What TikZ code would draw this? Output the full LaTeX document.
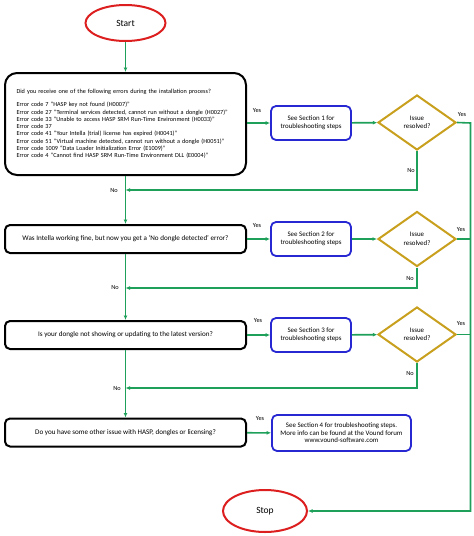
\documentclass[tikz,border=0pt]{standalone}
\usepackage{fontspec}
\setmainfont{Carlito}
\usetikzlibrary{shapes.geometric, arrows.meta, positioning}
\definecolor{flowgreen}{RGB}{30, 160, 90}
\definecolor{stopred}{RGB}{220, 30, 30}
\definecolor{stepblue}{RGB}{40, 40, 210}
\definecolor{askgold}{RGB}{200, 160, 30}

\begin{document}
\begin{tikzpicture}[x=1pt, y=-1pt,
  flow/.style={-{Latex[length=4.5pt, width=4pt]}, flowgreen, line width=1.6pt},
  link/.style={flowgreen, line width=1.6pt},
  endpoint/.style={draw=stopred, ellipse, line width=2pt, minimum width=80pt, minimum height=36pt, font=\fontsize{9.5}{11}\selectfont},
  question/.style={draw=black, rounded corners=5pt, line width=2pt, minimum width=241pt, minimum height=28pt, font=\fontsize{7.1}{8}\selectfont},
  stepbox/.style={draw=stepblue, rounded corners=5pt, line width=1.8pt, minimum width=80pt, minimum height=34pt, align=center, font=\fontsize{6.9}{7.6}\selectfont},
  check/.style={draw=askgold, diamond, line width=2pt, minimum width=78pt, minimum height=55pt, inner sep=0pt, align=center, font=\fontsize{6.9}{8.5}\selectfont},
  tag/.style={font=\fontsize{6.3}{7}\selectfont, inner sep=1pt}
]
  \useasboundingbox (0, 0) rectangle (474, 536);

  % Start and first question
  \node[endpoint] (start) at (125.5, 23) {Start};
  \node[question, rounded corners=12pt, minimum height=102pt, text width=218pt, align=left, font=\fontsize{6.2}{7.25}\selectfont] (q1) at (125.5, 124) {
    Did you receive one of the following errors during the installation process?\\[6pt]
    Error code 7 ``HASP key not found (H0007)''\\
    Error code 27 ``Terminal services detected, cannot run without a dongle (H0027)''\\
    Error code 33 ``Unable to access HASP SRM Run-Time Environment (H0033)''\\
    Error code 37\\
    Error code 41 ``Your Intella (trial) license has expired (H0041)''\\
    Error code 51 ``Virtual machine detected, cannot run without a dongle (H0051)''\\
    Error code 1009 ``Data Loader Initialization Error (E1009)''\\
    Error code 4 ``Cannot find HASP SRM Run-Time Environment DLL (E0004)''
  };
  \node[stepbox] (sec1) at (311, 123) {See Section 1 for\\troubleshooting steps};
  \node[check] (ok1) at (417, 122.5) {Issue\\resolved?};

  % Second question
  \node[question] (q2) at (125.5, 239) {Was Intella working fine, but now you get a `No dongle detected' error?};
  \node[stepbox] (sec2) at (311, 239) {See Section 2 for\\troubleshooting steps};
  \node[check] (ok2) at (417, 239) {Issue\\resolved?};

  % Third question
  \node[question] (q3) at (125.5, 335) {Is your dongle not showing or updating to the latest version?};
  \node[stepbox] (sec3) at (311, 335) {See Section 3 for\\troubleshooting steps};
  \node[check] (ok3) at (417, 334.5) {Issue\\resolved?};

  % Last question and stop
  \node[question] (q4) at (125.5, 432.5) {Do you have some other issue with HASP, dongles or licensing?};
  \node[stepbox, minimum width=139pt, minimum height=36pt] (sec4) at (341.5, 433) {See Section 4 for troubleshooting steps.\\More info can be found at the Vound forum\\www.vound-software.com};
  \node[endpoint, minimum width=84pt, minimum height=42pt] (stop) at (265, 511) {Stop};

  % helper points
  \coordinate (join1) at (125.5, 190);
  \coordinate (join2) at (125.5, 288);
  \coordinate (join3) at (125.5, 388);
  \coordinate (rail) at (470.5, 123);

  % main trunk
  \draw[flow] (start) -- (q1);
  \draw[flow] (q1.south) -- (q2.north);
  \draw[flow] (q2.south) -- (q3.north);
  \draw[flow] (q3.south) -- (q4.north);

  % yes branches
  \draw[flow] (q1.east |- sec1) -- (sec1);
  \draw[flow] (sec1) -- (ok1);
  \draw[flow] (q2) -- (sec2);
  \draw[flow] (sec2) -- (ok2);
  \draw[flow] (q3) -- (sec3);
  \draw[flow] (sec3) -- (ok3);
  \draw[flow] (q4) -- (sec4);

  % resolved -> stop
  \draw[flow] (ok1.east) -- (rail) |- (stop.east);
  \draw[link] (ok2.east) -- (ok2.east -| rail);
  \draw[link] (ok3.east) -- (ok3.east -| rail);

  % not resolved -> back to trunk
  \draw[flow] (ok1.south) |- (join1);
  \draw[flow] (ok2.south) |- (join2);
  \draw[flow] (ok3.south) |- (join3);

  % labels
  \node[tag] (y1) at (257, 110) {Yes};
  \node[tag] (y2) at (257, 225) {Yes};
  \node[tag] (y3) at (258, 320) {Yes};
  \node[tag] (y4) at (260, 418) {Yes};
  \node[tag] (r1) at (462, 114) {Yes};
  \node[tag] (r2) at (461, 229) {Yes};
  \node[tag] (r3) at (461, 323) {Yes};
  \node[tag] (n1) at (411, 170) {No};
  \node[tag] (n2) at (410, 278) {No};
  \node[tag] (n3) at (410, 373) {No};
  \node[tag] (t1) at (114, 190) {No};
  \node[tag] (t2) at (115, 287) {No};
  \node[tag] (t3) at (117, 388) {No};
\end{tikzpicture}
\end{document}
